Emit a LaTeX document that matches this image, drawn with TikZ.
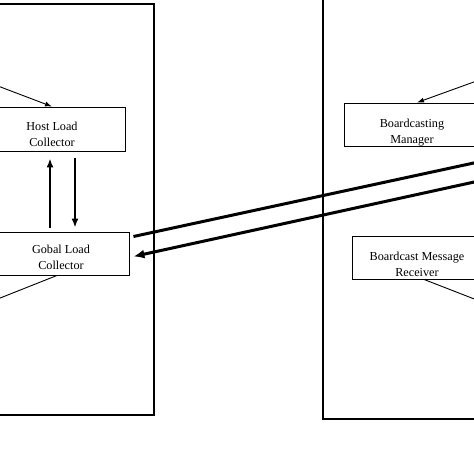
\documentclass[tikz,border=0pt]{standalone}
\usepackage{fontspec}
\setmainfont{Liberation Serif}
\usetikzlibrary{calc,arrows.meta,positioning}

\newcommand{\drop}[1]{\rule{0pt}{#1pt}}

\begin{document}
\begin{tikzpicture}[x=1pt, y=-1pt,
		block/.style={rectangle, draw, line width=0.9pt, align=center, inner ysep=0pt, font=\fontsize{12.2}{16}\selectfont},
		frame/.style={draw, line width=1.6pt},
		line/.style={draw, -{Latex[length=7pt,width=5pt]}, line width=0.9pt},
		vline/.style={draw, -{Latex[length=9pt,width=7pt]}, line width=2pt},
		thick line/.style={draw, line width=3pt},
		plain/.style={draw, line width=0.9pt}]
		\useasboundingbox (0,0) rectangle (474,474);
		\clip (0,0) rectangle (474,474);

		% Frames
		\path [frame] (-20,4) rectangle (154,415);
		\path [frame] (323,-20) rectangle (520,419);

		% Nodes
		\node [block, minimum width=146pt, minimum height=44pt] (host) at (52,129) {\drop{20}Host Load\\Collector};
		\node [block, minimum width=136pt, minimum height=43pt] (gobal) at (61,253.5) {\drop{16}Gobal Load\\Collector};
		\node [block, minimum width=136pt, minimum height=43pt] (manager) at (412,124.5) {\drop{24}Boardcasting\\Manager};
		\node [block, minimum width=130pt, minimum height=43pt] (receiver) at (417,257.5) {\drop{22}Boardcast Message\\Receiver};

		\coordinate (hostin) at (-10,83);
		\coordinate (managerin) at (500,72.5);
		\coordinate (gobalout) at (-20,306);
		\coordinate (receiverout) at (500,309);
		\coordinate (sendend) at (520,153);
		\coordinate (recvend) at (520,172);

		% Paths
		\path [line] (hostin) -- (host.north);
		\path [line] (managerin) -- ([xshift=5pt]manager.north);
		\path [vline] ([xshift=-2pt,yshift=4pt]host.south |- gobal.north) -- ([xshift=-2pt,yshift=-7pt]host.south);
		\path [vline] ([xshift=23pt,yshift=-7pt]host.south) -- ([xshift=23pt,yshift=4pt]host.south |- gobal.north);
		\path [thick line] ([xshift=4pt,yshift=17pt]gobal.east) -- (sendend);
		\path [thick line, -{Latex[length=11pt,width=9pt]}] (recvend) -- ([xshift=4pt,yshift=-3pt]gobal.east);
		\path [plain] ([xshift=-4pt]gobal.south) -- (gobalout);
		\path [plain] ([xshift=7pt]receiver.south) -- (receiverout);
	\end{tikzpicture}
\end{document}
